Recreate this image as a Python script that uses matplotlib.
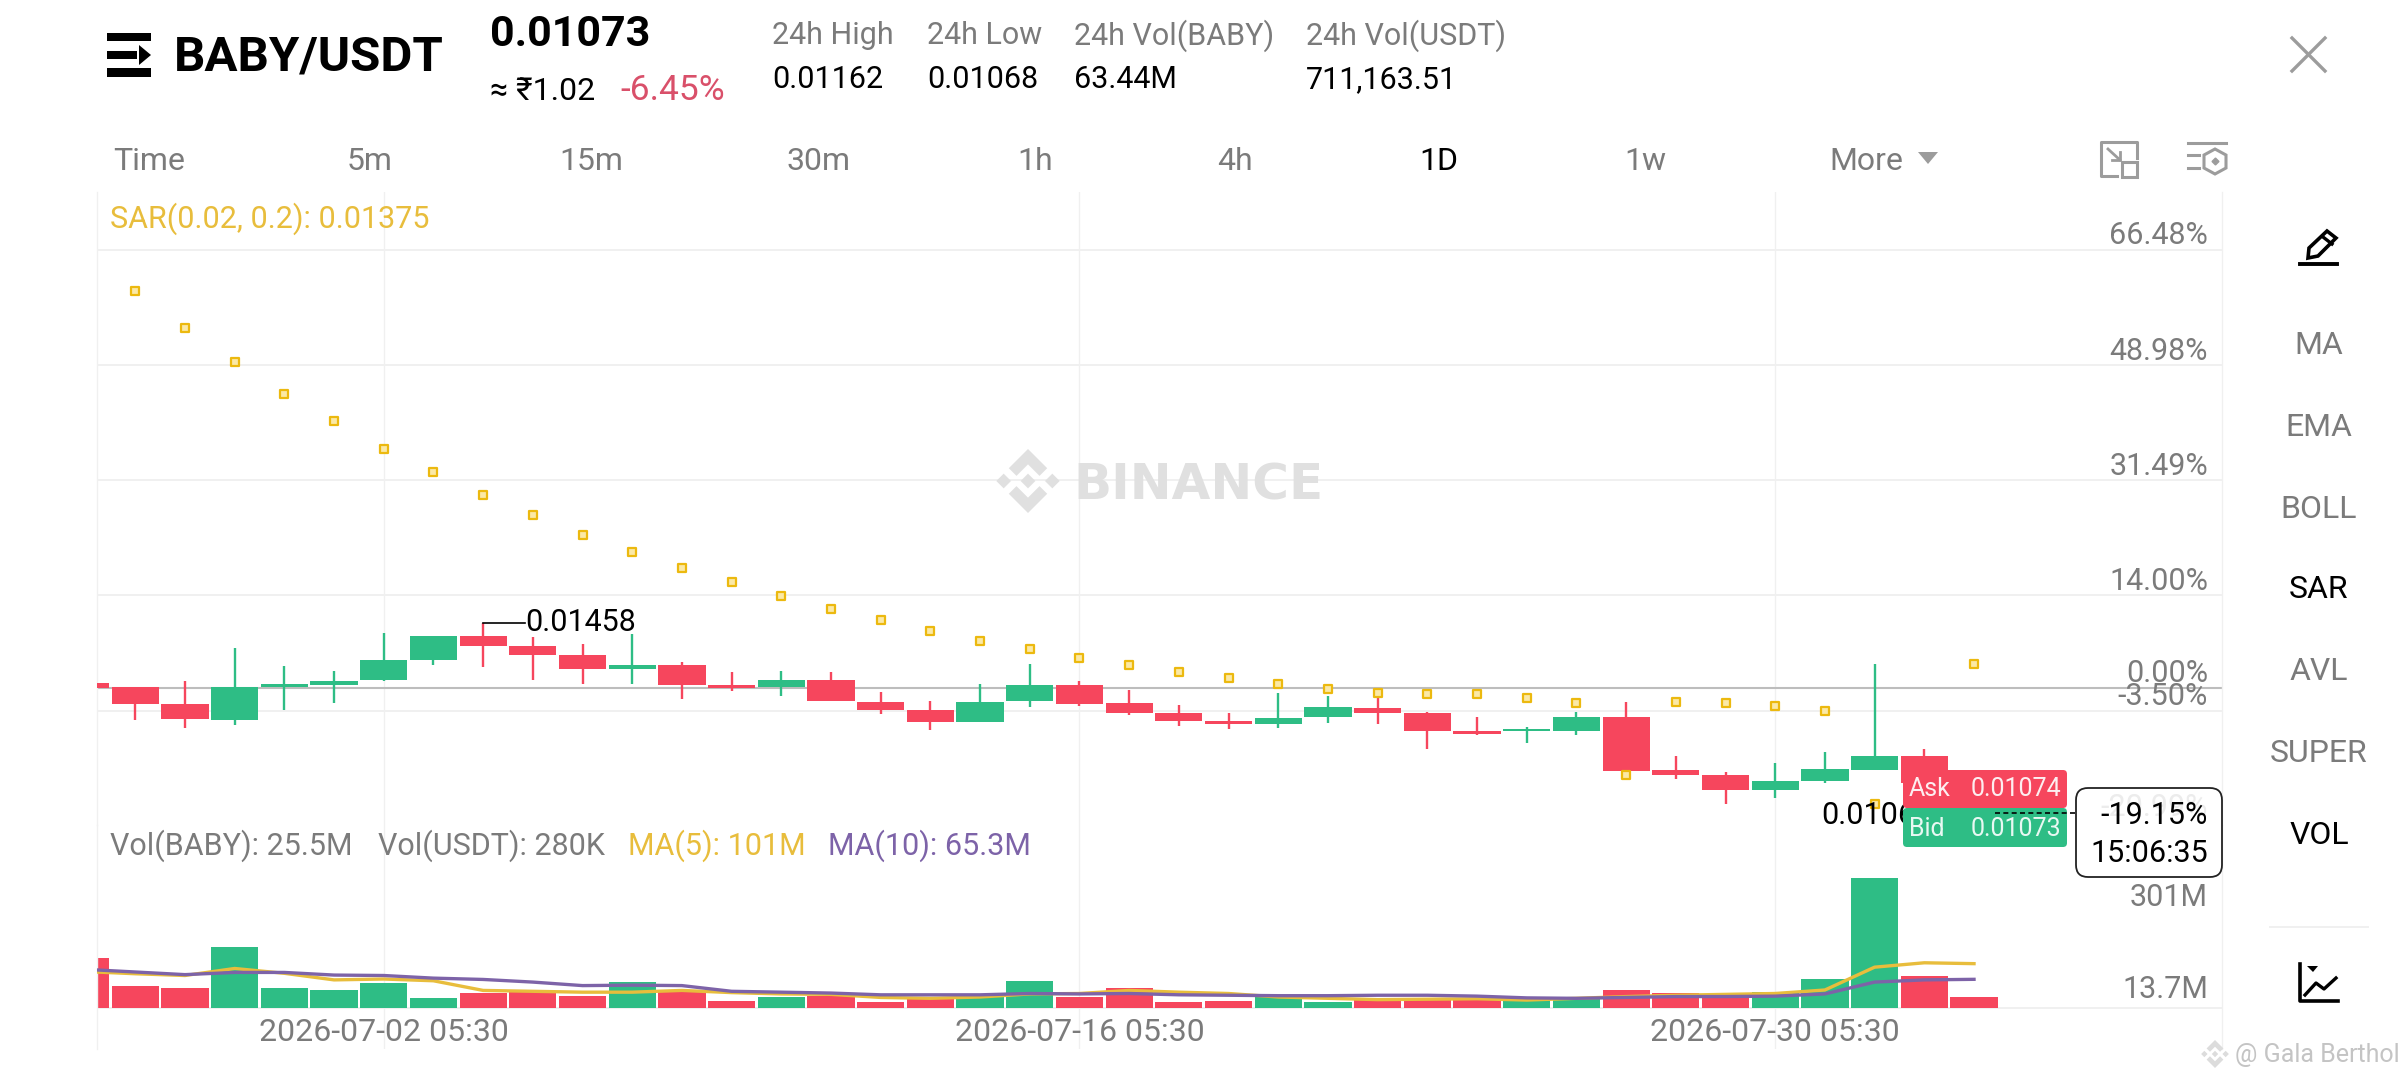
"""
BABY/USDT daily candles with SAR and volume panels, app screenshot layout.
"""

import matplotlib
matplotlib.use('Agg')
import numpy as np
import matplotlib.pyplot as plt
from matplotlib.patches import FancyBboxPatch, Polygon, Rectangle

plt.rcParams['font.family'] = ['Roboto', 'DejaVu Sans']

RED = '#f6465d'
GREEN = '#2ebd85'
GOLD = '#e8bd3c'
PURPLE = '#7d63a8'
GREY = '#7b7b7b'
ICON = '#9c9c9c'
GRID = '#f0f0f0'

# daily candles, first one is 2026-06-26
opens = [0.01336, 0.01328, 0.01294, 0.01262, 0.01329, 0.01332, 0.01342, 0.01383, 0.01431, 0.01410,
         0.01393, 0.01365, 0.01372, 0.01332, 0.01328, 0.01342, 0.01299, 0.01282, 0.01258, 0.01300,
         0.01333, 0.01296, 0.01277, 0.01260, 0.01254, 0.01267, 0.01287, 0.01276, 0.01240, 0.01239,
         0.01239, 0.01267, 0.01161, 0.01151, 0.01120, 0.01140, 0.01162, 0.01189, 0.01136]
highs = [0.01336, 0.01329, 0.01340, 0.01406, 0.01371, 0.01361, 0.01438, 0.01432, 0.01458, 0.01429,
         0.01415, 0.01436, 0.01378, 0.01359, 0.01361, 0.01358, 0.01318, 0.01300, 0.01334, 0.01374,
         0.01340, 0.01322, 0.01293, 0.01276, 0.01316, 0.01311, 0.01312, 0.01279, 0.01267, 0.01248,
         0.01279, 0.01298, 0.01189, 0.01157, 0.01175, 0.01198, 0.01375, 0.01203, 0.01162]
lows = [0.01327, 0.01262, 0.01245, 0.01251, 0.01283, 0.01297, 0.01341, 0.01372, 0.01369, 0.01342,
        0.01334, 0.01334, 0.01304, 0.01321, 0.01311, 0.01301, 0.01274, 0.01242, 0.01258, 0.01288,
        0.01290, 0.01271, 0.01250, 0.01244, 0.01246, 0.01256, 0.01254, 0.01203, 0.01231, 0.01216,
        0.01232, 0.01159, 0.01143, 0.01093, 0.01105, 0.01136, 0.01162, 0.01136, 0.01068]
closes = [0.01327, 0.01294, 0.01263, 0.01329, 0.01335, 0.01341, 0.01383, 0.01431, 0.01411, 0.01393,
          0.01364, 0.01372, 0.01332, 0.01326, 0.01342, 0.01301, 0.01283, 0.01258, 0.01299, 0.01332,
          0.01295, 0.01277, 0.01260, 0.01254, 0.01266, 0.01288, 0.01276, 0.01240, 0.01234, 0.01244,
          0.01267, 0.01159, 0.01151, 0.01120, 0.01139, 0.01163, 0.01189, 0.01136, 0.01073]
sar = [np.nan, 0.02127, 0.02052, 0.01984, 0.01919, 0.01864, 0.01808, 0.01762, 0.01715, 0.01675,
       0.01635, 0.01601, 0.01568, 0.01539, 0.01512, 0.01485, 0.01463, 0.01441, 0.01422, 0.01404,
       0.01387, 0.01373, 0.01359, 0.01346, 0.01334, 0.01324, 0.01316, 0.01314, 0.01315, 0.01306,
       0.01297, 0.01151, 0.01298, 0.01297, 0.01290, 0.01281, 0.01093, np.nan, 0.01375]

# volume, millions of BABY
volumes = [115, 51, 46, 140, 46, 40, 56, 22, 33, 36, 28, 60, 40, 17, 24, 27, 14, 22, 26, 61,
           24, 45, 14, 17, 24, 14, 18, 20, 20, 18, 20, 40, 33, 31, 36, 65, 296, 73, 25.5]
ma5 = [83, 78, 74, 90, 79, 64, 66, 62, 40, 38, 36, 36, 40, 35, 32, 31, 24, 22, 25, 32,
       33, 40, 36, 33, 25, 22, 19, 20, 21, 18, 22, 26, 29, 31, 33, 41, 93, 103, 101]
ma10 = [88, 82, 76, 81, 81, 75, 74, 68, 65, 59, 51, 52, 51, 38, 36, 34, 30, 30, 30, 33,
        32, 33, 30, 29, 28, 28, 29, 29, 27, 23, 22, 24, 26, 26, 27, 32, 59, 64, 65.3]

base_price = 0.01327
pct_ticks = [66.48, 48.98, 31.49, 14.00, 0.00, -3.50]
grid_pcts = [66.48, 48.98, 31.49, 14.00, -3.50, -20.99]
date_ticks = [6, 20, 34]
date_labels = ['2026-07-02 05:30', '2026-07-16 05:30', '2026-07-30 05:30']

header_stats = [('24h High', '0.01162', 772), ('24h Low', '0.01068', 927),
                ('24h Vol(BABY)', '63.44M', 1074), ('24h Vol(USDT)', '711,163.51', 1306)]
timeframes = [('5m', 370), ('15m', 591), ('30m', 818), ('1h', 1035), ('4h', 1235), ('1w', 1645)]
side_menu = [('MA', 345), ('EMA', 427), ('BOLL', 508), ('SAR', 589), ('AVL', 671), ('SUPER', 752), ('VOL', 834)]

W, H = 2408, 1080


def panel(x0, y0, x1, y1):
    """Axes placed with screen pixels, y counted from the top"""
    ax = fig.add_axes([x0 / W, 1 - y1 / H, (x1 - x0) / W, (y1 - y0) / H])
    ax.set_xlim(0.23, 42.99)
    ax.set_xticks([])
    ax.set_yticks([])
    ax.patch.set_alpha(0)
    for side in ['top', 'bottom']:
        ax.spines[side].set_visible(False)
    for side in ['left', 'right']:
        ax.spines[side].set_color(GRID)
        ax.spines[side].set_linewidth(1)
    for d in date_ticks:
        ax.axvline(d, color=GRID, lw=1, zorder=0)
    return ax


def draw_price(ax):
    x = np.arange(len(opens))
    o, h, l, c = map(np.array, (opens, highs, lows, closes))
    colors = [GREEN if c[i] > o[i] else RED for i in x]

    ax.set_ylim(0.010504, 0.023256)
    for p in grid_pcts:
        ax.axhline(base_price * (1 + p / 100), color=GRID, lw=1.4, zorder=0)
    for p in pct_ticks:
        ax.annotate(f'{p:.2f}%', (1, base_price * (1 + p / 100)), xycoords=('axes fraction', 'data'),
                    xytext=(-14, 14), textcoords='offset pixels', ha='right', va='center',
                    fontsize=22, color=GREY)
    ax.axhline(base_price, color='#bdbdbd', lw=1.5, zorder=1)

    ax.vlines(x, l, h, colors=colors, lw=1.7, zorder=2)
    ax.bar(x, np.abs(c - o), bottom=np.minimum(o, c), width=0.95, color=colors, zorder=3)
    ax.scatter(x, sar, marker='s', s=26, facecolor='#fbe9a6', edgecolor='#ecb90f', lw=1.6, zorder=4)

    # highest price tag
    ax.plot([8, 8.85], [0.01458, 0.01458], color='black', lw=1.2, zorder=5)
    ax.text(8.85, 0.01458, '0.01458', fontsize=22, color='black', va='center', ha='left', zorder=6)


def draw_volume(ax):
    x = np.arange(len(volumes))
    colors = [GREEN if closes[i] > opens[i] else RED for i in x]
    ax.set_ylim(-93.5, 417)
    ax.axhline(0, color=GRID, lw=1.4, zorder=0)
    ax.bar(x, volumes, width=0.95, color=colors, zorder=2)
    ax.plot(x, ma5, color=GOLD, lw=2.4, zorder=3)
    ax.plot(x, ma10, color=PURPLE, lw=2.4, zorder=4)
    ax.set_xticks(date_ticks)
    ax.set_xticklabels(date_labels, fontsize=23, color=GREY)
    ax.tick_params(axis='x', length=0, pad=-22)
    for value, label, dy in [(301, '301M', -22), (13.7, '13.7M', 12)]:
        ax.annotate(label, (1, value), xycoords=('axes fraction', 'data'), xytext=(-14, dy),
                    textcoords='offset pixels', ha='right', va='center', fontsize=22, color=GREY)


def logo_binance(ax, cx, cy, r, color):
    """Watermark mark: three diamonds and two chevrons"""
    top = [(0, -1), (.6, -.4), (.36, -.16), (0, -.52), (-.36, -.16), (-.6, -.4)]
    shapes = [top, [(a, -b) for a, b in top]]
    for dx in [-.76, 0, .76]:
        shapes.append([(dx - .23, 0), (dx, -.23), (dx + .23, 0), (dx, .23)])
    for s in shapes:
        ax.add_patch(Polygon([(cx + a * r, cy + b * r) for a, b in s], color=color, lw=0))


def draw_chrome(ax):
    def t(x, y, s, size=22, color=GREY, ha='left', **kw):
        ax.text(x, y + 2, s, fontsize=size, color=color, ha=ha, va='center', **kw)

    # header
    for y0, y1 in [(33, 41), (68, 77)]:
        ax.add_patch(Rectangle((107, y0), 44, y1 - y0, color='black', lw=0))
    ax.add_patch(Rectangle((107, 51), 30, 8, color='black', lw=0))
    ax.add_patch(Polygon([(139, 45), (151, 55), (139, 65)], color='black', lw=0))
    t(174, 55, 'BABY/USDT', 35.5, 'black', weight='bold')
    t(490, 33, '0.01073', 31, 'black', weight='bold')
    t(490, 89, '≈ ₹1.02', 23, 'black')
    t(620, 89, '-6.45%', 25.5, '#d9506a')
    for label, value, x in header_stats:
        t(x, 34, label)
        t(x, 78, value, 22, 'black')

    # timeframes
    t(113, 159, 'Time', 23)
    for label, x in timeframes:
        t(x, 159, label, 23, ha='center')
    t(1439, 159, '1D', 23, 'black', ha='center')
    t(1829, 159, 'More', 23)
    ax.add_patch(Polygon([(1918, 152), (1938, 152), (1928, 164)], color=ICON, lw=0))

    # close cross and toolbar icons
    ax.plot([2292, 2325], [38, 71], color=ICON, lw=2.4)
    ax.plot([2292, 2325], [71, 38], color=ICON, lw=2.4)
    ax.plot([2137, 2137, 2101, 2101, 2117], [158, 142, 142, 176, 176], color=ICON, lw=2.2)
    ax.add_patch(Rectangle((2122, 162), 15, 15, fill=False, ec=ICON, lw=2.2))
    ax.plot([2108, 2120], [149, 160], color=ICON, lw=2)
    ax.plot([2120, 2120, 2112], [152, 160, 160], color=ICON, lw=2)
    ax.plot([2188, 2226], [143, 143], color=ICON, lw=2.2)
    for yy in [155, 168]:
        ax.plot([2188, 2199], [yy, yy], color=ICON, lw=2.2)
    ax.add_patch(Polygon([(2215, 149), (2226, 155), (2226, 168), (2215, 174), (2204, 168), (2204, 155)],
                         fill=False, ec=ICON, lw=2.2))
    ax.plot([2215], [161], marker='D', ms=3.5, color=ICON)

    # pencil tool
    ax.add_patch(Polygon([(2309, 248), (2327, 231), (2336, 238), (2318, 256), (2308, 258)],
                         fill=False, ec='black', lw=2.6))
    ax.plot([2323, 2332], [237, 244], color='black', lw=2.4)
    ax.plot([2300, 2337], [264, 264], color='black', lw=2.8)

    # side menu
    for label, y in side_menu:
        color = 'black' if label in ('SAR', 'VOL') else GREY
        t(2319, y - 1, label, 23, color, ha='center')
    ax.plot([2270, 2368], [927, 927], color=GRID, lw=1.4)
    ax.plot([2300, 2300, 2338], [964, 1001, 1001], color='black', lw=2.6)
    ax.plot([2305, 2316, 2324, 2336], [995, 983, 989, 978], color='black', lw=2.4)
    ax.add_patch(Polygon([(2307, 966), (2318, 966), (2313, 972)], color='black', lw=0))

    # panel legends
    t(110, 217, 'SAR(0.02, 0.2): 0.01375', 22, GOLD)
    t(110, 844, 'Vol(BABY): 25.5M', 22)
    t(378, 844, 'Vol(USDT): 280K', 22)
    t(628, 844, 'MA(5): 101M', 22, GOLD)
    t(828, 844, 'MA(10): 65.3M', 22, PURPLE)

    # watermarks
    logo_binance(ax, 1028, 481, 32, '#e0e0e0')
    ax.text(1073, 485, 'BINANCE', fontsize=36, family='DejaVu Sans', weight='bold', color='#e0e0e0',
            va='center', ha='left')
    logo_binance(ax, 2215, 1054, 14, '#dcdcdc')
    t(2235, 1053, '@ Gala Berthol', 18, '#c4c4c4')

    # lowest price tag goes under the bid box
    t(1821, 814, '0.01068', 22, 'black')

    # ask / bid boxes
    ax.add_patch(FancyBboxPatch((1903, 770), 164, 38, boxstyle='round,pad=0,rounding_size=4',
                                color=RED, lw=0, zorder=4))
    ax.add_patch(FancyBboxPatch((1903, 808), 164, 39, boxstyle='round,pad=0,rounding_size=4',
                                color=GREEN, lw=0, zorder=4))
    t(1909, 787, 'Ask', 18, '#fdeef0', zorder=5)
    t(2061, 787, '0.01074', 18, '#fdeef0', ha='right', zorder=5)
    t(1909, 827, 'Bid', 18, '#e8f8f2', zorder=5)
    t(2061, 827, '0.01073', 18, '#e8f8f2', ha='right', zorder=5)

    # countdown, the last price line runs into it
    ax.plot([1995, 2077], [813, 813], color='black', lw=1.2, ls=(0, (3, 2)), zorder=6)
    ax.add_patch(FancyBboxPatch((2076, 788), 146, 89, boxstyle='round,pad=0,rounding_size=12',
                                fc='white', ec='#222222', lw=1.3, zorder=7))
    t(2208, 805, '-20.99%', 22, '#ececec', ha='right', zorder=8)
    t(2208, 814, '-19.15%', 22, 'black', ha='right', zorder=9)
    t(2208, 851, '15:06:35', 22, 'black', ha='right', zorder=9)


fig = plt.figure(figsize=(W / 100, H / 100), dpi=100, facecolor='white')

ax_price = panel(97, 192, 2222, 825)
draw_price(ax_price)
ax_vol = panel(97, 825, 2222, 1049)
draw_volume(ax_vol)

ax_top = fig.add_axes([0, 0, 1, 1])
ax_top.set_xlim(0, W)
ax_top.set_ylim(H, 0)
ax_top.axis('off')
draw_chrome(ax_top)

fig.savefig('out.png', dpi=100)
